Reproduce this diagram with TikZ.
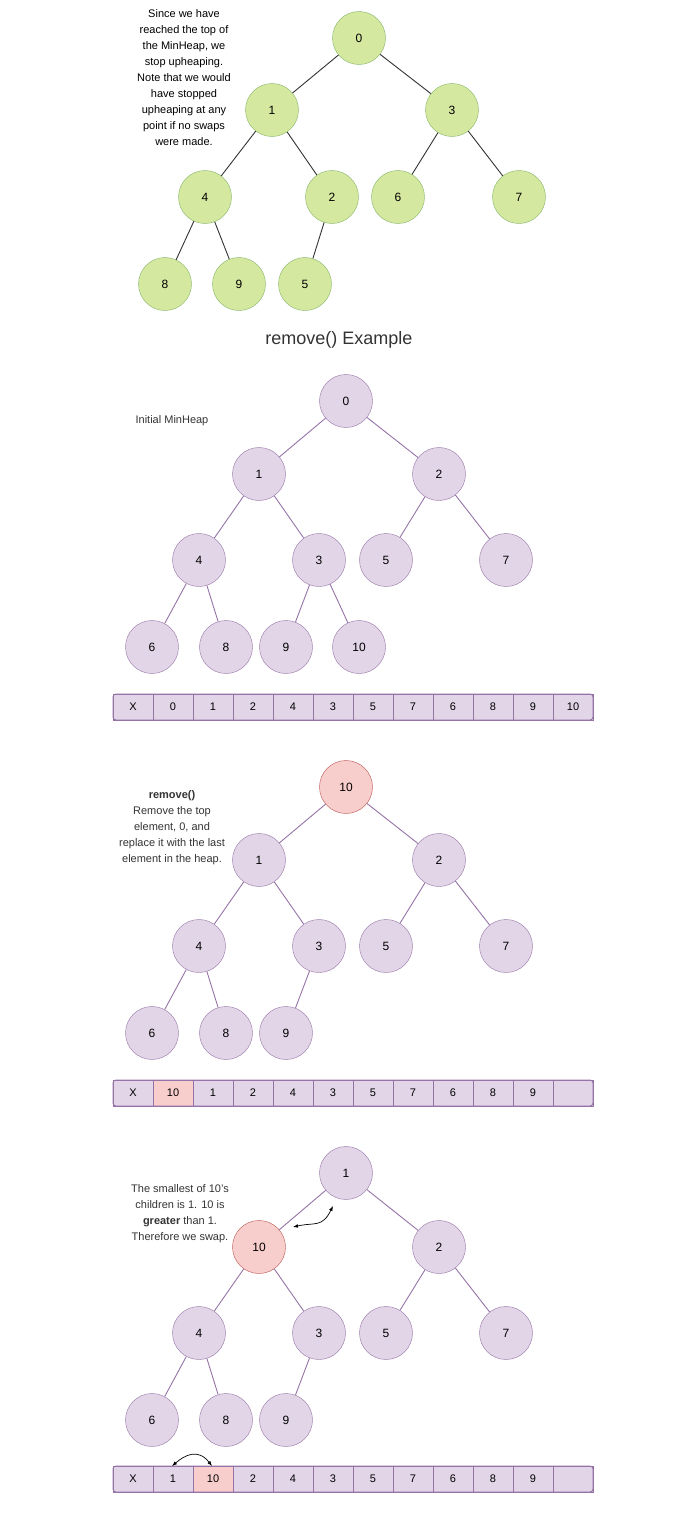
\documentclass[tikz,border=0pt]{standalone}
\usepackage{fontspec}
\setmainfont{Liberation Sans}
\usetikzlibrary{arrows.meta}
\definecolor{gfill}{HTML}{D5E8A0}
\definecolor{gline}{HTML}{82B366}
\definecolor{pfill}{HTML}{E1D5E7}
\definecolor{pline}{HTML}{9673A6}
\definecolor{rfill}{HTML}{F8CECC}
\definecolor{rline}{HTML}{B85450}
\definecolor{txt}{HTML}{333333}
\begin{document}
\begin{tikzpicture}[x=1pt,y=-1pt,
  gn/.style={circle,draw=gline,fill=gfill,minimum size=53pt,inner sep=0pt,font=\fontsize{12}{14}\selectfont},
  pn/.style={circle,draw=pline,fill=pfill,minimum size=53pt,inner sep=0pt,font=\fontsize{12}{14}\selectfont},
  rn/.style={circle,draw=rline,fill=rfill,minimum size=53pt,inner sep=0pt,font=\fontsize{12}{14}\selectfont},
  ge/.style={draw=txt,line width=0.9pt},
  pe/.style={draw=pline,line width=0.9pt},
  cell/.style={draw=pline,fill=pfill,minimum width=40pt,minimum height=26pt,inner sep=0pt,font=\fontsize{11}{13}\selectfont},
  rcell/.style={cell,fill=rfill},
  note/.style={align=center,font=\fontsize{11}{16}\selectfont,text=black},
  sw/.style={{Latex[length=5pt]}-{Latex[length=5pt]},line width=0.7pt,black}]
\useasboundingbox (0,0) rectangle (692,1520);
% top green tree
\foreach \n/\x/\y in {0/359/38,1/272/110,3/452/110,4/205/197,2/332/197,6/398/197,7/519/197,8/165/284,9/239/284,5/305/284}
  \node[gn] (g\n) at (\x,\y) {\n};
\foreach \a/\b in {0/1,0/3,1/4,1/2,3/6,3/7,4/8,4/9,2/5} \draw[ge] (g\a)--(g\b);
\node[note] (t1) at (184,78) {Since we have\\reached the top of\\the MinHeap, we\\stop upheaping.\\Note that we would\\have stopped\\upheaping at any\\point if no swaps\\were made.};
\node[font=\fontsize{18}{20}\selectfont,text=txt] (title) at (339,340) {remove() Example};
% tree 2
\foreach \n/\x/\y in {0/346/401,1/259/474,2/439/474,4/199/560,3/319/560,5/386/560,7/506/560,6/152/647,8/226/647,9/286/647,10/359/647}
  \node[pn] (a\n) at (\x,\y) {\n};
\foreach \a/\b in {0/1,0/2,1/4,1/3,2/5,2/7,4/6,4/8,3/9,3/10} \draw[pe] (a\a)--(a\b);
\node[note,text=txt] (t2) at (172,421) {Initial MinHeap};
\foreach \v [count=\i] in {X,0,1,2,4,3,5,7,6,8,9,10}
  \node[cell] (c\i) at (93+40*\i,707) {\v};
\draw[pline,line width=0.9pt,rounded corners=3pt] (113,694) rectangle (593,720);
% tree 3
\node[rn] (b0) at (346,787) {10};
\foreach \n/\x/\y in {1/259/860,2/439/860,4/199/946,3/319/946,5/386/946,7/506/946,6/152/1033,8/226/1033,9/286/1033}
  \node[pn] (b\n) at (\x,\y) {\n};
\foreach \a/\b in {0/1,0/2,1/4,1/3,2/5,2/7,4/6,4/8,3/9} \draw[pe] (b\a)--(b\b);
\node[note,text=txt] (t3) at (172,828) {\textbf{remove()}\\Remove the top\\element, 0, and\\replace it with the last\\element in the heap.};
\foreach \v [count=\i] in {X,10,1,2,4,3,5,7,6,8,9,{}}
  \node[cell] (d\i) at (93+40*\i,1093) {\v};
\node[rcell] at (d2) {10};
\draw[pline,line width=0.9pt,rounded corners=3pt] (113,1080) rectangle (593,1106);
% tree 4
\node[pn] (e0) at (346,1173) {1};
\node[rn] (e1) at (259,1247) {10};
\foreach \n/\x/\y in {2/439/1247,4/199/1333,3/319/1333,5/386/1333,7/506/1333,6/152/1420,8/226/1420,9/286/1420}
  \node[pn] (e\n) at (\x,\y) {\n};
\foreach \a/\b in {0/1,0/2,1/4,1/3,2/5,2/7,4/6,4/8,3/9} \draw[pe] (e\a)--(e\b);
\node[note,text=txt] (t4) at (180,1214) {The smallest of 10's\\children is 1. 10 is\\\textbf{greater} than 1.\\Therefore we swap.};
\coordinate (s1) at (293,1227);
\coordinate (s2) at (333,1206);
\draw[sw] (s1) .. controls (315,1222) and (322,1228) .. (s2);
\foreach \v [count=\i] in {X,1,10,2,4,3,5,7,6,8,9,{}}
  \node[cell] (f\i) at (93+40*\i,1479) {\v};
\node[rcell] at (f3) {10};
\draw[pline,line width=0.9pt,rounded corners=3pt] (113,1466) rectangle (593,1492);
\coordinate (u1) at (172,1466);
\coordinate (u2) at (212,1466);
\draw[sw] (u1) .. controls (185,1455) and (198,1448) .. (u2);
\end{tikzpicture}
\end{document}
